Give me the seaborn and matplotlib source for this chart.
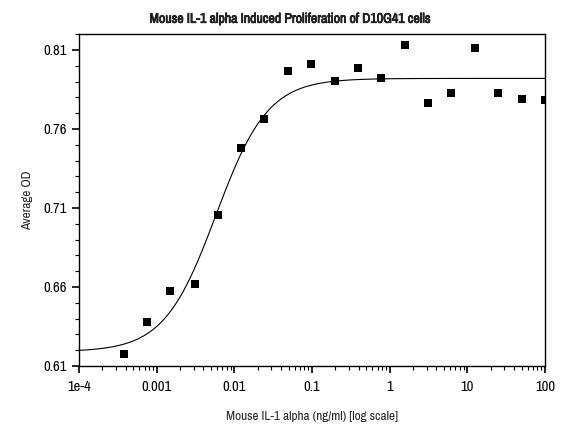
import numpy as np
import pandas as pd
import seaborn as sns
import matplotlib.pyplot as plt
import matplotlib.patheffects as pe
from matplotlib import font_manager
from matplotlib.ticker import FixedLocator, MultipleLocator, LogLocator, NullFormatter


# two-fold serial dilution, ng/ml
conc = [0.00038, 0.00076, 0.0015, 0.0031, 0.0061, 0.0122, 0.0244, 0.0488,
        0.0977, 0.195, 0.39, 0.78, 1.56, 3.125, 6.25, 12.5, 25, 50, 100]
od = [0.6176, 0.6380, 0.6577, 0.6621, 0.7056, 0.7480, 0.7665, 0.7967,
      0.8011, 0.7904, 0.7986, 0.7923, 0.8132, 0.7765, 0.7828, 0.8113,
      0.7828, 0.7790, 0.7784]

# 4PL fit parameters
bottom, top, ec50, hill = 0.619, 0.792, 0.0058, 1.3

xticks = [1e-4, 0.001, 0.01, 0.1, 1, 10, 100]
xtick_labels = ["1e-4", "0.001", "0.01", "0.1", "1", "10", "100"]
yticks = [0.61, 0.66, 0.71, 0.76, 0.81]
ytick_labels = ["0.61", "0.66", "0.71", "0.76", "0.81"]

sns.set_style("white")

# look for a narrow font, the original looks like Arial Narrow
names = sorted({f.name for f in font_manager.fontManager.ttflist})
narrow = [n for n in names if "Narrow" in n or "Condensed" in n]
plt.rcParams['font.family'] = narrow[:1] + ['Liberation Sans', 'DejaVu Sans']

df = pd.DataFrame({"conc": conc, "od": od})
xfit = np.logspace(-4, 2, 400)
fit = pd.DataFrame({"conc": xfit,
                    "od": bottom + (top - bottom) / (1 + (ec50 / xfit) ** hill)})

fig = plt.figure(figsize=(5.69, 4.37), dpi=100)
ax = fig.add_axes([0.1388, 0.1625, 0.819, 0.7597])

sns.lineplot(data=fit, x="conc", y="od", color="black", linewidth=0.8, ax=ax)
sns.scatterplot(data=df, x="conc", y="od", marker="s", s=40, color="black",
                edgecolor="black", linewidth=0, ax=ax, zorder=3)

ax.set_xscale("log")
ax.set_xlim(1e-4, 100)
ax.set_ylim(0.61, 0.8201)
ax.xaxis.set_major_locator(FixedLocator(xticks))
ax.set_xticklabels(xtick_labels)
ax.xaxis.set_minor_locator(LogLocator(base=10, subs=np.arange(2, 10)))
ax.xaxis.set_minor_formatter(NullFormatter())
ax.yaxis.set_major_locator(FixedLocator(yticks))
ax.set_yticklabels(ytick_labels)
ax.yaxis.set_minor_locator(MultipleLocator(0.01))

ax.tick_params(which="major", direction="out", length=5, width=1.2,
               colors="black", labelsize=10.5 if narrow else 9.5,
               left=True, bottom=True)
ax.tick_params(axis="x", which="major", pad=5)
ax.tick_params(which="minor", direction="out", length=3, width=0.8,
               colors="black", left=True, bottom=True)

for s in ax.spines.values():
    s.set_color("black")
    s.set_linewidth(1.0)

small = 9.5 if narrow else 8.5
ax.set_xlabel("Mouse IL-1 alpha (ng/ml) [log scale]", fontsize=small, labelpad=12)
ax.set_ylabel("Average OD", fontsize=small, labelpad=8)
title = fig.suptitle("Mouse IL-1 alpha Induced Proliferation of D10G41 cells",
                     x=0.51, y=0.973, fontsize=10 if narrow else 8.5,
                     fontweight="bold")
# the narrow face has no bold weight, so thicken it
title.set_path_effects([pe.withStroke(linewidth=0.5, foreground="black")])

fig.savefig("out.png", dpi=100)
